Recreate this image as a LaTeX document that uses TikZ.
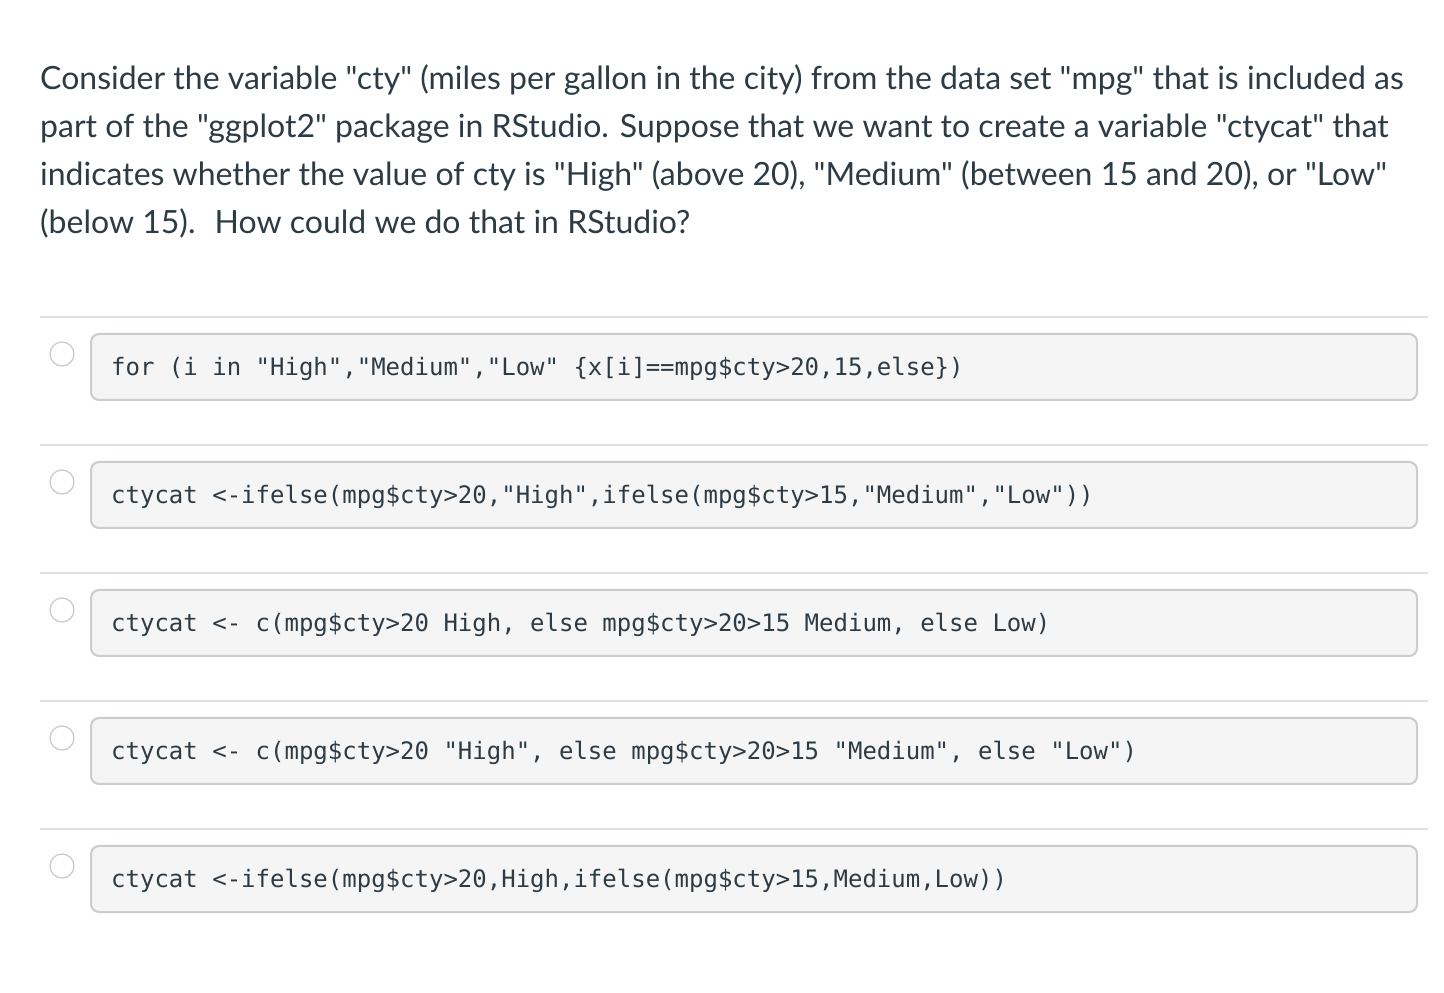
\documentclass[tikz,border=0pt]{standalone}
\usepackage{fontspec}
\setmainfont{Lato}[Ligatures=TeXOff]
\setmonofont{DejaVu Sans Mono}
\definecolor{inktext}{HTML}{2D3B45}
\definecolor{rulegray}{HTML}{DDDFE1}
\definecolor{codefill}{HTML}{F5F5F5}
\definecolor{codeline}{HTML}{C7CDD1}
\definecolor{radioline}{HTML}{C8C8C8}
\tikzset{
  question/.style={anchor=base west,inner sep=0pt,text=inktext,font=\fontsize{32bp}{48bp}\selectfont},
  codebox/.style={draw=codeline,line width=2bp,fill=codefill,rounded corners=8bp,minimum width=1326bp,minimum height=66bp,inner sep=0pt},
  codetext/.style={anchor=base west,inner sep=0pt,text=inktext,font=\fontsize{24bp}{28bp}\ttfamily},
  radio/.style={circle,draw=radioline,line width=1.2bp,fill=white,minimum size=24bp,inner sep=0pt},
  sep/.style={rulegray,line width=2bp},
}
\begin{document}
\begin{tikzpicture}[x=1bp,y=1bp]
\useasboundingbox (0,0) rectangle (1444,992);
%%
\node (text_1) at (40bp,902.5bp) [question] {Consider the variable "cty" (miles per gallon in the city) from the data set "mpg" that is included as};
  \node (text_2) at (40bp,854.5bp) [question] {part of the "ggplot2" package in RStudio. Suppose that we want to create a variable "ctycat" that};
  \node (text_3) at (40bp,806.5bp) [question] {indicates whether the value of cty is "High" (above 20), "Medium" (between 15 and 20), or "Low"};
  \node (text_4) at (40bp,758.5bp) [question] {(below 15).~ How could we do that in RStudio?};
%
  \draw [sep] (40bp,674.5bp) -- (1428bp,674.5bp);
  \node (radio_1) at (62bp,638bp) [radio] {};
  \node (box_1) at (754bp,625bp) [codebox] {};
  \node (code_1) at (111bp,616.5bp) [codetext] {for (i in "High","Medium","Low" \{x[i]==mpg\$cty>20,15,else\})};
%
  \draw [sep] (40bp,546.5bp) -- (1428bp,546.5bp);
  \node (radio_2) at (62bp,510bp) [radio] {};
  \node (box_2) at (754bp,497bp) [codebox] {};
  \node (code_2) at (111bp,488.5bp) [codetext] {ctycat <-ifelse(mpg\$cty>20,"High",ifelse(mpg\$cty>15,"Medium","Low"))};
%
  \draw [sep] (40bp,418.5bp) -- (1428bp,418.5bp);
  \node (radio_3) at (62bp,382bp) [radio] {};
  \node (box_3) at (754bp,369bp) [codebox] {};
  \node (code_3) at (111bp,360.5bp) [codetext] {ctycat <- c(mpg\$cty>20 High, else mpg\$cty>20>15 Medium, else Low)};
%
  \draw [sep] (40bp,290.5bp) -- (1428bp,290.5bp);
  \node (radio_4) at (62bp,254bp) [radio] {};
  \node (box_4) at (754bp,241bp) [codebox] {};
  \node (code_4) at (111bp,232.5bp) [codetext] {ctycat <- c(mpg\$cty>20 "High", else mpg\$cty>20>15 "Medium", else "Low")};
%
  \draw [sep] (40bp,162.5bp) -- (1428bp,162.5bp);
  \node (radio_5) at (62bp,126bp) [radio] {};
  \node (box_5) at (754bp,113bp) [codebox] {};
  \node (code_5) at (111bp,104.5bp) [codetext] {ctycat <-ifelse(mpg\$cty>20,High,ifelse(mpg\$cty>15,Medium,Low))};
%
\end{tikzpicture}
\end{document}
